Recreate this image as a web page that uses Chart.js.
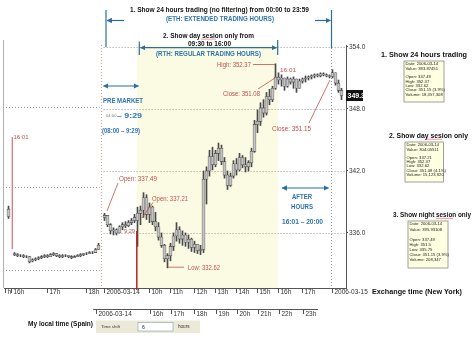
<!DOCTYPE html>
<html lang="en">
<head>
<meta charset="UTF-8" />
<title>Trading sessions</title>
<script src="https://cdn.jsdelivr.net/npm/chart.js"></script>
<style>
  body { margin: 0; background: #fff; font-family: 'Liberation Sans', Arial, sans-serif; }
  .wrap { position: relative; width: 474px; height: 338px; overflow: hidden; }
  canvas, svg { position: absolute; left: 0; top: 0; }
  .bl { fill: #2e74b5; font-weight: bold; }
  .rd { fill: #c0504d; }
  .hd { fill: #111; font-weight: bold; }
  .bline { stroke: #2d6d9c; stroke-width: 1.2; }
  .rline { stroke: #c0504d; stroke-width: 0.8; }
  .tip { fill: #222; font-size: 4.2px; }
</style>
</head>
<body>
<div class="wrap">
  <canvas id="chart" width="474" height="338"></canvas>
  <svg id="ann" width="474" height="338" viewBox="0 0 474 338" font-family="'Liberation Sans', Arial, sans-serif">
    <defs>
      <marker id="ah" viewBox="0 0 6 6" refX="5.5" refY="3" markerWidth="4.5" markerHeight="4.5" orient="auto-start-reverse">
        <path d="M0,0 L6,3 L0,6 z" fill="#2d6d9c" />
      </marker>
    </defs>

    <!-- headers over the chart -->
    <text class="hd" x="130" y="11.5" font-size="7.2" textLength="179" lengthAdjust="spacingAndGlyphs">1. Show 24 hours trading (no filtering) from 00:00 to 23:59</text>
    <text class="bl" x="166" y="20.8" font-size="6.8" textLength="108" lengthAdjust="spacingAndGlyphs">(ETH: EXTENDED TRADING HOURS)</text>
    <text class="hd" x="163" y="37.5" font-size="7.2" textLength="91" lengthAdjust="spacingAndGlyphs">2. Show day sesion only from</text>
    <path d="M201,39.5 l1,-0.8 l1,0.8 l1,-0.8 l1,0.8 l1,-0.8 l1,0.8 l1,-0.8 l1,0.8 l1,-0.8 l1,0.8 l1,-0.8 l1,0.8 l1,-0.8 l1,0.8 l1,-0.8" fill="none" stroke="#e03030" stroke-width="0.5" />
    <text class="hd" x="188" y="45.8" font-size="7.2" textLength="43" lengthAdjust="spacingAndGlyphs">09:30 to 16:00</text>
    <text class="bl" x="156" y="55.8" font-size="6.8" textLength="105" lengthAdjust="spacingAndGlyphs">(RTH: REGULAR TRADING HOURS)</text>

    <line class="bline" x1="106" y1="10" x2="106" y2="47" />
    <line class="bline" x1="124" y1="20.5" x2="107" y2="20.5" marker-end="url(#ah)" />
    <line class="bline" x1="331.5" y1="10" x2="331.5" y2="48" />
    <line class="bline" x1="315" y1="20.5" x2="330.5" y2="20.5" marker-end="url(#ah)" />
    <line class="bline" x1="139.3" y1="41.5" x2="139.3" y2="55" />
    <line class="bline" x1="277.7" y1="40" x2="277.7" y2="55" />
    <line class="bline" x1="140.5" y1="47.7" x2="276.5" y2="47.7" marker-start="url(#ah)" marker-end="url(#ah)" />

    <!-- pre market -->
    <line class="bline" x1="103.5" y1="86" x2="138.5" y2="86" marker-start="url(#ah)" marker-end="url(#ah)" />
    <text class="bl" x="103" y="102.5" font-size="6.6" textLength="40" lengthAdjust="spacingAndGlyphs">PRE MARKET</text>
    <text x="106" y="117" font-size="4.2" fill="#7f7f7f">04:00</text>
    <text class="bl" x="117" y="117.5" font-size="6.6" textLength="25" lengthAdjust="spacingAndGlyphs">– 9:29</text>
    <text class="bl" x="102" y="132.5" font-size="6.6" textLength="38" lengthAdjust="spacingAndGlyphs">(08:00 – 9:29)</text>

    <!-- after hours -->
    <line class="bline" x1="282" y1="188" x2="328.5" y2="188" marker-start="url(#ah)" marker-end="url(#ah)" />
    <text class="bl" x="292" y="199.3" font-size="6.6" textLength="20" lengthAdjust="spacingAndGlyphs">AFTER</text>
    <text class="bl" x="291" y="209.3" font-size="6.6" textLength="22" lengthAdjust="spacingAndGlyphs">HOURS</text>
    <text class="bl" x="282" y="223.5" font-size="6.6" textLength="41" lengthAdjust="spacingAndGlyphs">16:01 – 20:00</text>

    <!-- red session marks -->
    <line x1="12.3" y1="137" x2="12.3" y2="249" stroke="#d9787a" stroke-width="1.3" />
    <text class="rd" x="13.5" y="138.5" font-size="6" textLength="15" lengthAdjust="spacingAndGlyphs">16:01</text>
    <line x1="136.8" y1="231" x2="136.8" y2="290" stroke="#b4262a" stroke-width="1.5" />
    <text class="rd" x="124" y="232.5" font-size="6" textLength="11" lengthAdjust="spacingAndGlyphs">9:29</text>

    <text class="rd" x="119" y="180.5" font-size="6.4" textLength="38" lengthAdjust="spacingAndGlyphs">Open: 337.49</text>
    <line class="rline" x1="118" y1="183" x2="107" y2="211" />
    <text class="rd" x="152" y="200.5" font-size="6.4" textLength="36" lengthAdjust="spacingAndGlyphs">Open: 337.21</text>
    <line class="rline" x1="153" y1="202.5" x2="142" y2="218" />
    <text class="rd" x="188" y="269.5" font-size="6.4" textLength="32" lengthAdjust="spacingAndGlyphs">Low: 332.62</text>
    <line class="rline" x1="168" y1="267.2" x2="184" y2="267.2" />
    <text class="rd" x="217" y="66.5" font-size="6.4" textLength="34" lengthAdjust="spacingAndGlyphs">High: 352.37</text>
    <line class="rline" x1="253" y1="64.5" x2="275" y2="64.5" />
    <text class="rd" x="280" y="71.5" font-size="6.2" textLength="16" lengthAdjust="spacingAndGlyphs">16:01</text>
    <text class="rd" x="223" y="95.5" font-size="6.4" textLength="37" lengthAdjust="spacingAndGlyphs">Close: 351.08</text>
    <line class="rline" x1="258" y1="89" x2="275" y2="78" />
    <text class="rd" x="272" y="130.5" font-size="6.4" textLength="39" lengthAdjust="spacingAndGlyphs">Close: 351.15</text>
    <line class="rline" x1="309" y1="123" x2="330" y2="80" />

    <!-- right side panels -->
    <text class="hd" x="381" y="56.5" font-size="7" textLength="86" lengthAdjust="spacingAndGlyphs">1. Show 24 hours trading</text>
    <text class="hd" x="389" y="137.5" font-size="7" textLength="79" lengthAdjust="spacingAndGlyphs">2. Show day sesion only</text>
    <path d="M425,139.6 l1,-0.8 l1,0.8 l1,-0.8 l1,0.8 l1,-0.8 l1,0.8 l1,-0.8 l1,0.8 l1,-0.8 l1,0.8 l1,-0.8 l1,0.8 l1,-0.8 l1,0.8 l1,-0.8 l1,0.8 l1,-0.8" fill="none" stroke="#e03030" stroke-width="0.5" />
    <text class="hd" x="393" y="216.8" font-size="7" textLength="78" lengthAdjust="spacingAndGlyphs">3. Show night sesion only</text>
    <path d="M436,218.8 l1,-0.8 l1,0.8 l1,-0.8 l1,0.8 l1,-0.8 l1,0.8 l1,-0.8 l1,0.8 l1,-0.8 l1,0.8 l1,-0.8 l1,0.8 l1,-0.8 l1,0.8 l1,-0.8 l1,0.8 l1,-0.8" fill="none" stroke="#e03030" stroke-width="0.5" />
    <g id="tips"></g>

    <text class="hd" x="372" y="293.5" font-size="7" textLength="90" lengthAdjust="spacingAndGlyphs">Exchange time (New York)</text>

    <!-- local time strip -->
    <g id="local"></g>
    <text class="hd" x="28" y="325.8" font-size="7" textLength="65" lengthAdjust="spacingAndGlyphs">My local time (Spain)</text>
    <rect x="96" y="320.5" width="104" height="12.5" fill="#ece9d8" />
    <text x="101" y="328.3" font-size="4.4" fill="#333">Time shift</text>
    <rect x="138" y="322.5" width="35" height="8.5" fill="#fff" stroke="#7f9db9" stroke-width="0.6" />
    <text x="142" y="328.8" font-size="5" fill="#222">6</text>
    <text x="178" y="328.3" font-size="4.6" fill="#333">hours</text>
  </svg>
</div>

<script>
// one slot per bar, left to right (previous day after hours, pre market, RTH, after hours, next day)
const barOpen = [
  null, 338.3, null, 334.0, 333.9, 333.8, 333.8, 333.7, 333.7, 333.3,
  333.4, 333.5, 333.6, 333.7, 333.8, 333.7, 333.9, 334.0, 333.8, 333.7,
  333.8, 333.8, 333.7, 333.6, 333.7, 333.8, 333.9, 334.0, 334.0, 334.1,
  334.1, 334.4, null, 337.49, 337.7, 336.8, 336.2, 336.3, 336.0, 336.6,
  336.8, 336.7, 337.0, 337.2, 337.21, 337.9, 338.2, 339.4, 337.8, 338.5,
  337.1, 336.6, 335.6, 334.8, 333.5, 333.8, 334.7, 335.7, 336.3, 335.4,
  335.8, 335.1, 335.4, 334.6, 334.9, 334.3, 334.4, 341.2, 342.0, 343.4,
  342.6, 343.7, 344.2, 342.9, 341.6, 340.6, 341.5, 342.7, 342.1, 343.3,
  342.6, 342.4, 342.8, 343.9, 346.5, 346.8, 348.1, 347.6, 349.2, 348.9,
  350.0, 351.08, 350.8, 351.0, 350.2, 350.9, 350.6, 350.9, 350.0, 350.7,
  350.9, 351.0, 351.1, 351.2, 351.3, 351.2, 351.4, 351.3, 351.2, 351.15,
  351.5, 350.5, 349.8, null
];
const barHigh = [
  null, 338.6, null, 334.1, 334.0, 333.9, 333.9, 333.8, 333.7, 333.5,
  333.6, 333.7, 333.8, 333.9, 333.9, 334.0, 334.1, 334.0, 333.9, 333.9,
  333.9, 333.8, 333.8, 333.8, 333.9, 334.0, 334.0, 334.1, 334.2, 334.2,
  334.5, 335.0, null, 337.9, 337.7, 336.9, 336.5, 336.4, 336.7, 337.0,
  337.1, 337.2, 337.4, 337.8, 338.5, 338.6, 339.9, 339.7, 338.9, 338.6,
  338.0, 337.0, 336.0, 334.9, 334.0, 335.0, 336.0, 337.0, 336.6, 336.2,
  336.0, 335.8, 335.5, 335.2, 334.9, 334.8, 342.0, 342.4, 344.0, 344.3,
  344.0, 344.7, 344.5, 343.3, 342.0, 341.8, 343.0, 343.2, 343.7, 343.5,
  343.3, 343.0, 344.2, 346.9, 347.9, 348.6, 348.9, 349.6, 349.9, 350.2,
  352.37, 351.5, 351.3, 351.0, 351.1, 351.0, 351.1, 350.9, 350.9, 351.0,
  351.2, 351.2, 351.3, 351.4, 351.4, 351.5, 351.5, 351.4, 351.3, 351.8,
  351.5, 350.8, 350.0, null
];
const barLow = [
  null, 337.4, null, 333.8, 333.7, 333.7, 333.6, 333.6, 333.1, 333.2,
  333.3, 333.4, 333.5, 333.6, 333.6, 333.7, 333.8, 333.7, 333.6, 333.6,
  333.7, 333.6, 333.5, 333.6, 333.7, 333.7, 333.8, 333.9, 334.0, 334.0,
  334.1, 334.4, null, 337.2, 336.6, 335.9, 335.8, 335.8, 336.0, 336.3,
  336.5, 336.6, 336.8, 337.0, 334.7, 336.8, 337.5, 337.3, 337.0, 336.8,
  336.2, 335.3, 334.6, 333.2, 332.62, 333.3, 334.3, 335.2, 335.0, 334.8,
  334.7, 334.5, 334.2, 334.1, 334.0, 333.9, 334.1, 338.8, 341.5, 342.1,
  342.4, 343.0, 342.6, 341.3, 340.2, 340.5, 341.3, 341.6, 342.0, 342.3,
  341.9, 342.0, 342.4, 343.8, 345.7, 346.4, 347.2, 347.4, 348.4, 348.7,
  349.9, 350.4, 350.2, 349.8, 350.1, 350.4, 350.0, 349.6, 350.0, 350.5,
  350.6, 350.8, 350.9, 351.0, 351.1, 351.1, 351.2, 351.1, 351.0, 351.0,
  350.3, 349.6, 348.9, null
];
const barClose = [
  null, 337.6, null, 333.9, 333.8, 333.8, 333.7, 333.7, 333.2, 333.4,
  333.5, 333.6, 333.7, 333.8, 333.7, 333.9, 334.0, 333.8, 333.7, 333.8,
  333.8, 333.7, 333.6, 333.7, 333.8, 333.9, 334.0, 334.0, 334.1, 334.1,
  334.4, 334.8, null, 337.7, 336.8, 336.2, 336.3, 336.0, 336.6, 336.8,
  336.7, 337.0, 337.2, 337.5, 337.9, 338.2, 339.4, 337.8, 338.5, 337.1,
  336.6, 335.6, 334.8, 333.5, 333.8, 334.7, 335.7, 336.3, 335.4, 335.8,
  335.1, 335.4, 334.6, 334.9, 334.3, 334.4, 341.2, 342.0, 343.4, 342.6,
  343.7, 344.2, 342.9, 341.6, 340.6, 341.5, 342.7, 342.1, 343.3, 342.6,
  342.4, 342.8, 343.9, 346.5, 346.8, 348.1, 347.6, 349.2, 348.9, 350.0,
  351.08, 350.8, 351.0, 350.2, 350.9, 350.6, 350.9, 350.0, 350.7, 350.9,
  351.0, 351.1, 351.2, 351.3, 351.2, 351.4, 351.3, 351.2, 351.15, 351.5,
  350.5, 349.8, 349.3, null
];

// exchange time axis (slot index -> label)
const xTickIdx = [0, 2, 14, 27, 33, 48, 55, 63, 70, 77, 84, 91, 99, 109];
const xTickText = ['h', '16h', '17h', '18h', '2006-03-14', '10h', '11h', '12h', '13h', '14h', '15h', '16h', '17h', '2006-03-15'];
// local time strip under the chart
const localTickIdx = [30, 48, 55, 63, 70, 77, 84, 91, 99];
const localTickText = ['2006-03-14', '16h', '17h', '18h', '19h', '20h', '21h', '22h', '23h'];

const yTicks = [336, 342, 348, 354];
const leftGrid = [348.2, 340.45, 332.4];   // grid of the previous-day strip
const dayBreaks = [31.7, 108.5];
const rthFrom = 43.8, rthTo = 90.8;
const lastPrice = 349.3;

const tipPanels = [
  { x: 404, y: 61, w: 40, h: 41, lh: 4.3, lines: ['Date: 2006-03-14', 'Value: 383.87451', '', 'Open:  337.49', 'High:  352.37', 'Low:   332.62', 'Close:  351.15 (3.9%)', 'Volume: 18,357,308'] },
  { x: 405, y: 142, w: 38.5, h: 40, lh: 4.2, lines: ['Date: 2006-03-14', 'Value: 304.05511', '', 'Open:  337.21', 'High:  352.37', 'Low:   332.62', 'Close:  351.08 (4.1%)', 'Volume: 15,123,920'] },
  { x: 408, y: 221, w: 40, h: 47, lh: 5.1, lines: ['Date: 2006-03-14', 'Value: 395.93108', '', 'Open:  337.49', 'High:  351.5', 'Low:   335.75', 'Close:  351.15 (3.9%)', 'Volume: 208,347'] }
];

const slots = barClose.map((_, i) => String(i));
const wicks = barLow.map((l, i) => l == null ? null : [l, barHigh[i]]);
const bodies = barOpen.map((o, i) => o == null ? null : [o, barClose[i]]);

Chart.defaults.font.family = "'Liberation Sans', Arial, sans-serif";

const sessionPlugin = {
  id: 'sessions',
  beforeDatasetsDraw(chart) {
    const { ctx, chartArea: a, scales: { x, y } } = chart;
    ctx.save();
    // regular trading hours
    const x0 = x.getPixelForValue(rthFrom), x1 = x.getPixelForValue(rthTo);
    ctx.fillStyle = '#fbfbe3';
    ctx.fillRect(x0, a.top, x1 - x0, a.bottom - a.top);

    const xb = x.getPixelForValue(dayBreaks[0]);
    ctx.lineWidth = 1;
    ctx.setLineDash([1, 2]);
    ctx.strokeStyle = '#9a9a9a';
    yTicks.forEach(v => {
      const py = Math.round(y.getPixelForValue(v)) + 0.5;
      ctx.beginPath(); ctx.moveTo(xb + 3, py); ctx.lineTo(a.right, py); ctx.stroke();
    });
    leftGrid.forEach(v => {
      const py = Math.round(y.getPixelForValue(v)) + 0.5;
      ctx.beginPath(); ctx.moveTo(a.left + 2, py); ctx.lineTo(xb - 1, py); ctx.stroke();
    });
    dayBreaks.forEach((d, k) => {
      const px = Math.round(x.getPixelForValue(d)) + 0.5;
      ctx.strokeStyle = k === 0 ? '#d9a08a' : '#9a9a9a';
      ctx.beginPath(); ctx.moveTo(px, a.top); ctx.lineTo(px, a.bottom); ctx.stroke();
    });
    // left frame
    ctx.setLineDash([]);
    ctx.strokeStyle = '#b0b0b0';
    ctx.beginPath(); ctx.moveTo(a.left - 0.5, a.top - 5); ctx.lineTo(a.left - 0.5, a.bottom); ctx.stroke();
    ctx.restore();
  },
  afterDraw(chart) {
    const { ctx, chartArea: a, scales: { y } } = chart;
    const py = y.getPixelForValue(lastPrice);
    ctx.save();
    ctx.fillStyle = '#111';
    ctx.fillRect(a.right, py - 5.5, 17, 11);
    ctx.fillStyle = '#fff';
    ctx.font = "bold 7px 'Liberation Sans', Arial, sans-serif";
    ctx.textBaseline = 'middle';
    ctx.fillText(lastPrice.toFixed(1), a.right + 1.5, py + 0.5);
    ctx.restore();
  }
};

const chart = new Chart(document.getElementById('chart'), {
  type: 'bar',
  data: {
    labels: slots,
    datasets: [
      { label: 'High-Low', data: wicks, barThickness: 1, backgroundColor: '#4a4a4a', grouped: false, order: 2 },
      { label: 'Open-Close', data: bodies, barThickness: 3, backgroundColor: '#c4c4c4', borderColor: '#4a4a4a', borderWidth: 0.6, borderSkipped: false, grouped: false, order: 1 }
    ]
  },
  options: {
    responsive: false,
    animation: false,
    devicePixelRatio: 1,
    layout: { padding: { left: 4, top: 45, right: 0, bottom: 0 } },
    plugins: { legend: { display: false }, tooltip: { enabled: false } },
    scales: {
      x: {
        offset: true,
        grid: { display: true, drawOnChartArea: false, offset: false, tickLength: 5, color: '#555' },
        border: { color: '#555' },
        ticks: {
          autoSkip: false, maxRotation: 0, minRotation: 0, align: 'start',
          labelOffset: 2, padding: -5, color: '#333', font: { size: 6.5 },
          callback: (v, i) => xTickText[i]
        },
        afterBuildTicks: s => { s.ticks = xTickIdx.map(v => ({ value: v })); },
        afterFit: s => { s.height = 50; }
      },
      y: {
        position: 'right',
        min: 330.67,
        max: 354.19,
        grid: { drawOnChartArea: false, tickLength: 2, color: '#555' },
        border: { color: '#555' },
        ticks: { padding: 1, color: '#333', font: { size: 6.5 }, callback: v => v.toFixed(1) },
        afterBuildTicks: s => { s.ticks = yTicks.map(v => ({ value: v })); },
        afterFit: s => { s.width = 128; }
      }
    }
  },
  plugins: [sessionPlugin]
});

// svg helpers for the panels and the local time strip
const NS = 'http://www.w3.org/2000/svg';
function el(parent, tag, attrs, text) {
  const e = document.createElementNS(NS, tag);
  for (const k in attrs) e.setAttribute(k, attrs[k]);
  if (text != null) e.textContent = text;
  parent.appendChild(e);
  return e;
}

const tips = document.getElementById('tips');
tipPanels.forEach(p => {
  el(tips, 'rect', { x: p.x, y: p.y, width: p.w, height: p.h, fill: '#ffffe1', stroke: '#777', 'stroke-width': 0.7 });
  p.lines.forEach((t, k) => {
    if (t) el(tips, 'text', { class: 'tip', x: p.x + 1.5, y: p.y + 4.4 + k * p.lh, 'xml:space': 'preserve' }, t);
  });
});

const local = document.getElementById('local');
const sx = chart.scales.x;
el(local, 'line', { x1: sx.getPixelForValue(29.2), y1: 309.5, x2: sx.getPixelForValue(104.2), y2: 309.5, stroke: '#555', 'stroke-width': 1 });
localTickIdx.forEach((v, k) => {
  const px = Math.round(sx.getPixelForValue(v)) + 0.5;
  el(local, 'line', { x1: px, y1: 309.5, x2: px, y2: 314, stroke: '#555', 'stroke-width': 1 });
  el(local, 'text', { x: px + 2, y: 316.3, 'font-size': 6.5, fill: '#333' }, localTickText[k]);
});
</script>
</body>
</html>
